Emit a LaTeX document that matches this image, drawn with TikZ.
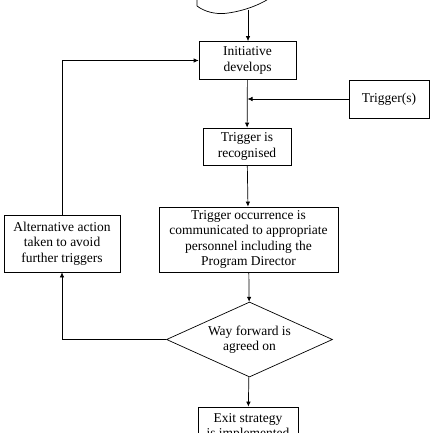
\documentclass[tikz,border=0pt]{standalone}
\usepackage{fontspec}
\setmainfont{Liberation Serif}
\usetikzlibrary{shapes.geometric,arrows.meta}

\tikzset{
    box/.style={draw,line width=0.7pt,align=center,inner sep=1pt,
        font={\fontsize{13.5}{15.5}\selectfont}},
    decision/.style={box,diamond,aspect=2.2,inner sep=0pt},
    flow/.style={draw=black,line width=0.7pt,-{Latex[length=5pt,width=4.5pt]}}
}

\begin{document}
\begin{tikzpicture}
        \useasboundingbox (0,0) rectangle (433pt,-433pt);
        \begin{scope}[x=1pt,y=-1pt]
        % document shape at the top
        \draw[line width=0.7pt] (197,-3) -- (197,6) .. controls (205,12) and (215,14) .. (224,13.5)
            .. controls (240,12) and (258,6) .. (270,-2);
        \coordinate (docbot) at (248,10);

        \node[box,minimum width=97pt,minimum height=38pt] (init) at (247.5,60.5) {Initiative\\develops};
        \node[box,minimum width=80pt,minimum height=38pt] (trig) at (389,99) {Trigger(s)};
        \node[box,minimum width=88pt,minimum height=37pt] (recog) at (247,146.5) {Trigger is\\recognised};
        \node[box,minimum width=179pt,minimum height=65pt] (comm) at (248.5,239.5) {Trigger occurrence is\\communicated to appropriate\\personnel including the\\Program Director};
        \node[box,minimum width=116pt,minimum height=57pt] (alt) at (62,243.5) {Alternative action\\taken to avoid\\further triggers};
        \node[decision,minimum width=166pt,minimum height=75pt] (way) at (249.5,339.5) {Way forward is\\agreed on};
        \node[box,minimum width=100pt,minimum height=40pt] (exit) at (248,427) {Exit strategy\\is implemented};

        \draw[flow] (docbot) -- (docbot |- init.north);
        \draw[flow] (init) -- (recog);
        \draw[flow] (trig) -- (trig -| init);
        \draw[flow] (recog) -- (comm);
        \draw[flow] (comm) -- (way);
        \draw[flow] (way) -- (exit);
        \draw[flow] (way.west) -| (alt.south);
        \draw[flow] (alt.north) |- (init.west);
        \end{scope}
    \end{tikzpicture}
\end{document}
